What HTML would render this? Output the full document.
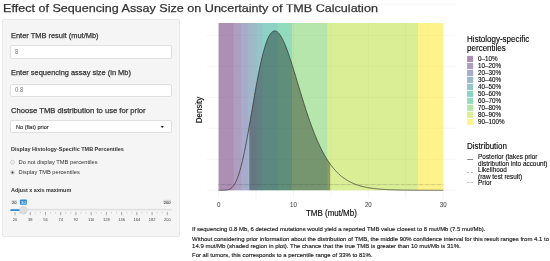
<!DOCTYPE html>
<html><head><meta charset="utf-8">
<style>
html,body{margin:0;padding:0;background:#fff;}
body{width:550px;height:261px;position:relative;overflow:hidden;font-family:"Liberation Sans",Arial,Helvetica,sans-serif;color:#333;}
.t{position:absolute;white-space:nowrap;line-height:1;transform-origin:0 0;}
.lb{-webkit-text-stroke:0.25px #333;}
.bt{color:#222;-webkit-text-stroke:0.15px #222;}
.well{position:absolute;left:2.0px;top:19.2px;width:178.2px;height:217.8px;background:#f5f5f5;border:0.6px solid #e9e9e9;border-radius:2px;box-sizing:border-box;}
.inp{position:absolute;left:10.4px;width:161.6px;background:#fff;border:0.6px solid #e0e0e0;border-radius:2px;box-sizing:border-box;}
svg{position:absolute;left:0;top:0;}
svg text{font-family:"Liberation Sans",Arial,Helvetica,sans-serif;}
</style></head>
<body>
<div class="t" style="left:2.5px;top:2.6px;font-size:11.4px;color:#333;transform:scaleX(1.104);-webkit-text-stroke:0.25px #333">Effect of Sequencing Assay Size on Uncertainty of TMB Calculation</div>
<div class="well"></div>
<div class="t lb" style="left:10.9px;top:31.75px;font-size:7.9px;transform:scaleX(0.943)">Enter TMB result (mut/Mb)</div>
<div class="inp" style="top:45.3px;height:13.6px;"></div>
<div class="t" style="left:15.3px;top:49.2px;font-size:6.8px;color:#777;transform:scaleX(0.88)">8</div>
<div class="t lb" style="left:10.9px;top:69.15px;font-size:7.9px;transform:scaleX(0.943)">Enter sequencing assay size (in Mb)</div>
<div class="inp" style="top:83.6px;height:13.0px;"></div>
<div class="t" style="left:15.3px;top:87.1px;font-size:6.8px;color:#777;transform:scaleX(0.88)">0.8</div>
<div class="t lb" style="left:10.9px;top:107.35px;font-size:8.1px;transform:scaleX(0.942)">Choose TMB distribution to use for prior</div>
<div class="inp" style="top:120.4px;height:13.0px;"></div>
<div class="t" style="left:15.6px;top:124.8px;font-size:5.9px;color:#333;transform:scaleX(0.95);-webkit-text-stroke:0.15px #333">No (flat) prior</div>
<div class="t" style="left:10.8px;top:147.3px;font-size:5.9px;font-weight:bold;transform:scaleX(0.929)">Display Histology-Specific TMB Percentiles</div>
<div class="t" style="left:18.6px;top:160.1px;font-size:5.72px;">Do not display TMB percentiles</div>
<div class="t" style="left:18.6px;top:170.4px;font-size:5.7px;">Display TMB percentiles</div>
<div class="t" style="left:10.8px;top:188.4px;font-size:5.85px;font-weight:bold;transform:scaleX(0.927)">Adjust x axis maximum</div>
<svg width="550" height="261" viewBox="0 0 550 261">
<!-- select arrow -->
<path d="M160.5 126.0 L163.9 126.0 L162.2 128.0 Z" fill="#222"/>
<!-- radios -->
<circle cx="12.5" cy="162.2" r="2.0" fill="#ececec" stroke="#bdbdbd" stroke-width="0.55"/>
<circle cx="12.5" cy="172.4" r="2.0" fill="#e4e4e4" stroke="#c4c4c4" stroke-width="0.55"/>
<circle cx="12.5" cy="172.4" r="1.0" fill="#333"/>
<!-- slider -->
<rect x="10.4" y="209.0" width="161.3" height="1.2" rx="0.6" fill="#e6e6e6" stroke="#d4d4d4" stroke-width="0.3"/>
<rect x="10.3" y="209.2" width="13" height="1.9" rx="0.9" fill="#2f8ad4"/>
<rect x="11.4" y="199.9" width="5.9" height="4.3" rx="0.8" fill="#dcdcdc"/>
<text x="14.35" y="203.5" font-size="4.0" fill="#333" text-anchor="middle">20</text>
<rect x="163" y="199.8" width="8.1" height="4.3" rx="0.8" fill="#dcdcdc"/>
<text x="167.05" y="203.5" font-size="4.0" fill="#333" text-anchor="middle">200</text>
<rect x="19.9" y="199.4" width="6.9" height="5.3" rx="0.8" fill="#2f8ad4"/>
<text x="23.45" y="203.5" font-size="4.2" fill="#fff" text-anchor="middle">30</text>
<circle cx="23.4" cy="210.3" r="3.8" fill="#dedede" stroke="#c9c9c9" stroke-width="0.4"/>
<line x1="15.00" y1="212" x2="15.00" y2="215.3" stroke="#777" stroke-width="0.6"/>
<text x="15.00" y="220.9" font-size="4.0" fill="#444" text-anchor="middle">20</text>
<line x1="20.08" y1="212" x2="20.08" y2="213.5" stroke="#aaa" stroke-width="0.5"/>
<line x1="25.15" y1="212" x2="25.15" y2="213.5" stroke="#aaa" stroke-width="0.5"/>
<line x1="30.23" y1="212" x2="30.23" y2="215.3" stroke="#777" stroke-width="0.6"/>
<text x="30.23" y="220.9" font-size="4.0" fill="#444" text-anchor="middle">38</text>
<line x1="35.31" y1="212" x2="35.31" y2="213.5" stroke="#aaa" stroke-width="0.5"/>
<line x1="40.38" y1="212" x2="40.38" y2="213.5" stroke="#aaa" stroke-width="0.5"/>
<line x1="45.46" y1="212" x2="45.46" y2="215.3" stroke="#777" stroke-width="0.6"/>
<text x="45.46" y="220.9" font-size="4.0" fill="#444" text-anchor="middle">56</text>
<line x1="50.54" y1="212" x2="50.54" y2="213.5" stroke="#aaa" stroke-width="0.5"/>
<line x1="55.61" y1="212" x2="55.61" y2="213.5" stroke="#aaa" stroke-width="0.5"/>
<line x1="60.69" y1="212" x2="60.69" y2="215.3" stroke="#777" stroke-width="0.6"/>
<text x="60.69" y="220.9" font-size="4.0" fill="#444" text-anchor="middle">74</text>
<line x1="65.77" y1="212" x2="65.77" y2="213.5" stroke="#aaa" stroke-width="0.5"/>
<line x1="70.84" y1="212" x2="70.84" y2="213.5" stroke="#aaa" stroke-width="0.5"/>
<line x1="75.92" y1="212" x2="75.92" y2="215.3" stroke="#777" stroke-width="0.6"/>
<text x="75.92" y="220.9" font-size="4.0" fill="#444" text-anchor="middle">92</text>
<line x1="81.00" y1="212" x2="81.00" y2="213.5" stroke="#aaa" stroke-width="0.5"/>
<line x1="86.07" y1="212" x2="86.07" y2="213.5" stroke="#aaa" stroke-width="0.5"/>
<line x1="91.15" y1="212" x2="91.15" y2="215.3" stroke="#777" stroke-width="0.6"/>
<text x="91.15" y="220.9" font-size="4.0" fill="#444" text-anchor="middle">110</text>
<line x1="96.23" y1="212" x2="96.23" y2="213.5" stroke="#aaa" stroke-width="0.5"/>
<line x1="101.30" y1="212" x2="101.30" y2="213.5" stroke="#aaa" stroke-width="0.5"/>
<line x1="106.38" y1="212" x2="106.38" y2="215.3" stroke="#777" stroke-width="0.6"/>
<text x="106.38" y="220.9" font-size="4.0" fill="#444" text-anchor="middle">128</text>
<line x1="111.46" y1="212" x2="111.46" y2="213.5" stroke="#aaa" stroke-width="0.5"/>
<line x1="116.53" y1="212" x2="116.53" y2="213.5" stroke="#aaa" stroke-width="0.5"/>
<line x1="121.61" y1="212" x2="121.61" y2="215.3" stroke="#777" stroke-width="0.6"/>
<text x="121.61" y="220.9" font-size="4.0" fill="#444" text-anchor="middle">146</text>
<line x1="126.69" y1="212" x2="126.69" y2="213.5" stroke="#aaa" stroke-width="0.5"/>
<line x1="131.76" y1="212" x2="131.76" y2="213.5" stroke="#aaa" stroke-width="0.5"/>
<line x1="136.84" y1="212" x2="136.84" y2="215.3" stroke="#777" stroke-width="0.6"/>
<text x="136.84" y="220.9" font-size="4.0" fill="#444" text-anchor="middle">164</text>
<line x1="141.92" y1="212" x2="141.92" y2="213.5" stroke="#aaa" stroke-width="0.5"/>
<line x1="146.99" y1="212" x2="146.99" y2="213.5" stroke="#aaa" stroke-width="0.5"/>
<line x1="152.07" y1="212" x2="152.07" y2="215.3" stroke="#777" stroke-width="0.6"/>
<text x="152.07" y="220.9" font-size="4.0" fill="#444" text-anchor="middle">182</text>
<line x1="157.15" y1="212" x2="157.15" y2="213.5" stroke="#aaa" stroke-width="0.5"/>
<line x1="162.22" y1="212" x2="162.22" y2="213.5" stroke="#aaa" stroke-width="0.5"/>
<line x1="167.30" y1="212" x2="167.30" y2="215.3" stroke="#777" stroke-width="0.6"/>
<text x="167.30" y="220.9" font-size="4.0" fill="#444" text-anchor="middle">200</text>
<line x1="207.0" y1="190.30" x2="456.0" y2="190.30" stroke="#ebebeb" stroke-width="0.5"/>
<line x1="207.0" y1="159.30" x2="456.0" y2="159.30" stroke="#ebebeb" stroke-width="0.5"/>
<line x1="207.0" y1="128.30" x2="456.0" y2="128.30" stroke="#ebebeb" stroke-width="0.5"/>
<line x1="207.0" y1="97.30" x2="456.0" y2="97.30" stroke="#ebebeb" stroke-width="0.5"/>
<line x1="207.0" y1="66.30" x2="456.0" y2="66.30" stroke="#ebebeb" stroke-width="0.5"/>
<line x1="207.0" y1="35.30" x2="456.0" y2="35.30" stroke="#ebebeb" stroke-width="0.5"/>
<line x1="207.0" y1="4.30" x2="456.0" y2="4.30" stroke="#ebebeb" stroke-width="0.5"/>
<line x1="218.60" y1="23.0" x2="218.60" y2="198.5" stroke="#ebebeb" stroke-width="0.5"/>
<line x1="256.03" y1="23.0" x2="256.03" y2="198.5" stroke="#ebebeb" stroke-width="0.5"/>
<line x1="293.47" y1="23.0" x2="293.47" y2="198.5" stroke="#ebebeb" stroke-width="0.5"/>
<line x1="330.90" y1="23.0" x2="330.90" y2="198.5" stroke="#ebebeb" stroke-width="0.5"/>
<line x1="368.34" y1="23.0" x2="368.34" y2="198.5" stroke="#ebebeb" stroke-width="0.5"/>
<line x1="405.77" y1="23.0" x2="405.77" y2="198.5" stroke="#ebebeb" stroke-width="0.5"/>
<line x1="443.21" y1="23.0" x2="443.21" y2="198.5" stroke="#ebebeb" stroke-width="0.5"/>
<rect x="218.6" y="23.0" width="15.80" height="167.30" fill="#ad8fb4"/>
<rect x="233.4" y="23.0" width="8.80" height="167.30" fill="#ad9ec2"/>
<rect x="241.2" y="23.0" width="8.10" height="167.30" fill="#a6acc9"/>
<rect x="248.3" y="23.0" width="8.20" height="167.30" fill="#9eb8ca"/>
<rect x="255.5" y="23.0" width="8.00" height="167.30" fill="#97c3c9"/>
<rect x="262.5" y="23.0" width="16.10" height="167.30" fill="#8cd3c5"/>
<rect x="277.6" y="23.0" width="15.40" height="167.30" fill="#92dcbd"/>
<rect x="292.0" y="23.0" width="36.30" height="167.30" fill="#b6e6ac"/>
<rect x="327.3" y="23.0" width="91.70" height="167.30" fill="#daee96"/>
<rect x="418.0" y="23.0" width="25.20" height="167.30" fill="#fef28b"/>
<line x1="218.6" y1="159.30" x2="443.2" y2="159.30" stroke="#000" stroke-opacity="0.05" stroke-width="0.5"/>
<line x1="218.6" y1="128.30" x2="443.2" y2="128.30" stroke="#000" stroke-opacity="0.05" stroke-width="0.5"/>
<line x1="218.6" y1="97.30" x2="443.2" y2="97.30" stroke="#000" stroke-opacity="0.05" stroke-width="0.5"/>
<line x1="218.6" y1="66.30" x2="443.2" y2="66.30" stroke="#000" stroke-opacity="0.05" stroke-width="0.5"/>
<line x1="218.6" y1="35.30" x2="443.2" y2="35.30" stroke="#000" stroke-opacity="0.05" stroke-width="0.5"/>
<line x1="256.03" y1="23.0" x2="256.03" y2="190.3" stroke="#000" stroke-opacity="0.05" stroke-width="0.5"/>
<line x1="293.47" y1="23.0" x2="293.47" y2="190.3" stroke="#000" stroke-opacity="0.05" stroke-width="0.5"/>
<line x1="330.90" y1="23.0" x2="330.90" y2="190.3" stroke="#000" stroke-opacity="0.05" stroke-width="0.5"/>
<line x1="368.34" y1="23.0" x2="368.34" y2="190.3" stroke="#000" stroke-opacity="0.05" stroke-width="0.5"/>
<line x1="405.77" y1="23.0" x2="405.77" y2="190.3" stroke="#000" stroke-opacity="0.05" stroke-width="0.5"/>
<polygon points="249.30,190.30 249.30,125.74 249.70,123.42 250.11,121.09 250.51,118.75 250.91,116.39 251.32,114.04 251.72,111.68 252.13,109.31 252.53,106.95 252.94,104.60 253.34,102.25 253.74,99.91 254.15,97.58 254.55,95.27 254.96,92.97 255.36,90.69 255.77,88.43 256.17,86.20 256.57,83.98 256.98,81.80 257.38,79.64 257.79,77.52 258.19,75.42 258.60,73.37 259.00,71.34 259.40,69.36 259.81,67.41 260.21,65.51 260.62,63.65 261.02,61.83 261.43,60.05 261.83,58.33 262.23,56.65 262.64,55.01 263.04,53.43 263.45,51.90 263.85,50.42 264.26,48.99 264.66,47.61 265.06,46.29 265.47,45.02 265.87,43.80 266.28,42.64 266.68,41.53 267.09,40.48 267.49,39.49 267.89,38.55 268.30,37.66 268.70,36.83 269.11,36.06 269.51,35.34 269.92,34.68 270.32,34.08 270.72,33.53 271.13,33.03 271.53,32.59 271.94,32.20 272.34,31.87 272.75,31.59 273.15,31.36 273.55,31.18 273.96,31.06 274.36,30.98 274.77,30.96 275.17,30.99 275.58,31.06 275.98,31.19 276.38,31.36 276.79,31.57 277.19,31.84 277.60,32.14 278.00,32.50 278.41,32.89 278.81,33.33 279.21,33.80 279.62,34.32 280.02,34.88 280.43,35.47 280.83,36.11 281.24,36.77 281.64,37.48 282.04,38.22 282.45,38.99 282.85,39.79 283.26,40.63 283.66,41.49 284.07,42.39 284.47,43.31 284.87,44.26 285.28,45.24 285.68,46.24 286.09,47.27 286.49,48.32 286.90,49.39 287.30,50.48 287.71,51.59 288.11,52.73 288.51,53.88 288.92,55.05 289.32,56.23 289.73,57.43 290.13,58.65 290.54,59.88 290.94,61.12 291.34,62.37 291.75,63.64 292.15,64.92 292.56,66.20 292.96,67.50 293.37,68.80 293.77,70.11 294.17,71.43 294.58,72.75 294.98,74.08 295.39,75.41 295.79,76.74 296.20,78.08 296.60,79.42 297.00,80.77 297.41,82.11 297.81,83.45 298.22,84.80 298.62,86.14 299.03,87.48 299.43,88.82 299.83,90.16 300.24,91.49 300.64,92.82 301.05,94.15 301.45,95.47 301.86,96.79 302.26,98.10 302.66,99.41 303.07,100.71 303.47,102.00 303.88,103.29 304.28,104.57 304.69,105.84 305.09,107.11 305.49,108.36 305.90,109.61 306.30,110.85 306.71,112.08 307.11,113.30 307.52,114.51 307.92,115.71 308.32,116.91 308.73,118.09 309.13,119.26 309.54,120.42 309.94,121.57 310.35,122.71 310.75,123.83 311.15,124.95 311.56,126.05 311.96,127.15 312.37,128.23 312.77,129.30 313.18,130.36 313.58,131.40 313.98,132.44 314.39,133.46 314.79,134.47 315.20,135.47 315.60,136.45 316.01,137.43 316.41,138.39 316.81,139.34 317.22,140.27 317.62,141.20 318.03,142.11 318.43,143.01 318.84,143.90 319.24,144.77 319.64,145.64 320.05,146.49 320.45,147.33 320.86,148.15 321.26,148.97 321.67,149.77 322.07,150.56 322.47,151.34 322.88,152.11 323.28,152.86 323.69,153.61 324.09,154.34 324.50,155.06 324.90,155.77 325.30,156.47 325.71,157.16 326.11,157.83 326.52,158.50 326.92,159.15 327.33,159.79 327.73,160.42 328.13,161.04 328.54,161.66 328.94,162.26 329.35,162.85 329.75,163.43 330.16,163.99 330.16,190.30" fill="#000" fill-opacity="0.35"/>
<line x1="218.60" y1="184.6" x2="443.21" y2="184.6" stroke="#333" stroke-width="0.45" stroke-dasharray="0.45 0.75"/>
<polyline points="218.60,190.30 218.97,190.30 219.35,190.30 219.72,190.30 220.10,190.30 220.47,190.30 220.85,190.30 221.22,190.30 221.59,190.30 221.97,190.30 222.34,190.30 222.72,190.29 223.09,190.29 223.47,190.28 223.84,190.28 224.22,190.26 224.59,190.25 224.96,190.23 225.34,190.21 225.71,190.18 226.09,190.14 226.46,190.09 226.84,190.03 227.21,189.97 227.58,189.89 227.96,189.79 228.33,189.68 228.71,189.56 229.08,189.41 229.46,189.25 229.83,189.06 230.20,188.85 230.58,188.62 230.95,188.35 231.33,188.06 231.70,187.74 232.08,187.39 232.45,187.00 232.83,186.58 233.20,186.13 233.57,185.63 233.95,185.10 234.32,184.53 234.70,183.91 235.07,183.25 235.45,182.55 235.82,181.81 236.19,181.02 236.57,180.18 236.94,179.30 237.32,178.37 237.69,177.39 238.07,176.36 238.44,175.29 238.81,174.16 239.19,172.99 239.56,171.77 239.94,170.50 240.31,169.19 240.69,167.82 241.06,166.41 241.44,164.96 241.81,163.46 242.18,161.91 242.56,160.32 242.93,158.69 243.31,157.01 243.68,155.30 244.06,153.55 244.43,151.75 244.80,149.93 245.18,148.06 245.55,146.17 245.93,144.24 246.30,142.28 246.68,140.29 247.05,138.28 247.42,136.24 247.80,134.18 248.17,132.10 248.55,130.00 248.92,127.88 249.30,125.74 249.67,123.60 250.05,121.44 250.42,119.27 250.79,117.09 251.17,114.91 251.54,112.73 251.92,110.54 252.29,108.35 252.67,106.17 253.04,103.99 253.41,101.82 253.79,99.65 254.16,97.50 254.54,95.35 254.91,93.23 255.29,91.11 255.66,89.02 256.03,86.94 256.41,84.88 256.78,82.85 257.16,80.84 257.53,78.85 257.91,76.89 258.28,74.96 258.66,73.06 259.03,71.20 259.40,69.36 259.78,67.56 260.15,65.79 260.53,64.06 260.90,62.36 261.28,60.71 261.65,59.09 262.02,57.51 262.40,55.98 262.77,54.48 263.15,53.03 263.52,51.62 263.90,50.26 264.27,48.94 264.65,47.66 265.02,46.43 265.39,45.25 265.77,44.11 266.14,43.02 266.52,41.98 266.89,40.98 267.27,40.03 267.64,39.13 268.01,38.28 268.39,37.47 268.76,36.71 269.14,36.01 269.51,35.34 269.89,34.73 270.26,34.16 270.63,33.64 271.01,33.17 271.38,32.74 271.76,32.37 272.13,32.03 272.51,31.75 272.88,31.50 273.26,31.31 273.63,31.16 274.00,31.05 274.38,30.98 274.75,30.96 275.13,30.98 275.50,31.05 275.88,31.15 276.25,31.30 276.62,31.48 277.00,31.71 277.37,31.97 277.75,32.27 278.12,32.61 278.50,32.98 278.87,33.39 279.24,33.84 279.62,34.32 279.99,34.84 280.37,35.38 280.74,35.96 281.12,36.57 281.49,37.21 281.87,37.88 282.24,38.58 282.61,39.31 282.99,40.07 283.36,40.85 283.74,41.66 284.11,42.49 284.49,43.35 284.86,44.23 285.23,45.13 285.61,46.05 285.98,47.00 286.36,47.96 286.73,48.95 287.11,49.95 287.48,50.97 287.85,52.01 288.23,53.06 288.60,54.13 288.98,55.22 289.35,56.32 289.73,57.43 290.10,58.56 290.48,59.69 290.85,60.84 291.22,62.00 291.60,63.17 291.97,64.35 292.35,65.53 292.72,66.73 293.10,67.93 293.47,69.14 293.84,70.35 294.22,71.57 294.59,72.80 294.97,74.03 295.34,75.26 295.72,76.50 296.09,77.74 296.46,78.98 296.84,80.22 297.21,81.46 297.59,82.71 297.96,83.95 298.34,85.19 298.71,86.44 299.09,87.68 299.46,88.92 299.83,90.16 300.21,91.39 300.58,92.62 300.96,93.85 301.33,95.08 301.71,96.30 302.08,97.52 302.45,98.73 302.83,99.94 303.20,101.14 303.58,102.34 303.95,103.53 304.33,104.71 304.70,105.89 305.07,107.06 305.45,108.22 305.82,109.38 306.20,110.53 306.57,111.67 306.95,112.81 307.32,113.93 307.70,115.05 308.07,116.16 308.44,117.26 308.82,118.35 309.19,119.43 309.57,120.50 309.94,121.57 310.32,122.62 310.69,123.67 311.06,124.70 311.44,125.73 311.81,126.74 312.19,127.75 312.56,128.74 312.94,129.73 313.31,130.71 313.68,131.67 314.06,132.63 314.43,133.57 314.81,134.51 315.18,135.43 315.56,136.34 315.93,137.25 316.31,138.14 316.68,139.02 317.05,139.89 317.43,140.75 317.80,141.60 318.18,142.44 318.55,143.27 318.93,144.09 319.30,144.90 319.67,145.70 320.05,146.49 320.42,147.26 320.80,148.03 321.17,148.79 321.55,149.53 321.92,150.27 322.29,151.00 322.67,151.71 323.04,152.42 323.42,153.11 323.79,153.80 324.17,154.47 324.54,155.14 324.92,155.80 325.29,156.44 325.66,157.08 326.04,157.71 326.41,158.32 326.79,158.93 327.16,159.53 327.54,160.12 327.91,160.70 328.28,161.27 328.66,161.83 329.03,162.39 329.41,162.93 329.78,163.47 330.16,163.99 330.53,164.51 330.90,165.02 331.28,165.52 331.65,166.02 332.03,166.50 332.40,166.98 332.78,167.45 333.15,167.91 333.53,168.36 333.90,168.81 334.27,169.24 334.65,169.67 335.02,170.09 335.40,170.51 335.77,170.92 336.15,171.32 336.52,171.71 336.89,172.10 337.27,172.47 337.64,172.85 338.02,173.21 338.39,173.57 338.77,173.92 339.14,174.27 339.52,174.61 339.89,174.94 340.26,175.27 340.64,175.59 341.01,175.90 341.39,176.21 341.76,176.52 342.14,176.81 342.51,177.10 342.88,177.39 343.26,177.67 343.63,177.94 344.01,178.21 344.38,178.48 344.76,178.74 345.13,178.99 345.50,179.24 345.88,179.49 346.25,179.72 346.63,179.96 347.00,180.19 347.38,180.41 347.75,180.64 348.13,180.85 348.50,181.06 348.87,181.27 349.25,181.47 349.62,181.67 350.00,181.87 350.37,182.06 350.75,182.25 351.12,182.43 351.49,182.61 351.87,182.79 352.24,182.96 352.62,183.13 352.99,183.29 353.37,183.45 353.74,183.61 354.11,183.77 354.49,183.92 354.86,184.07 355.24,184.21 355.61,184.35 355.99,184.49 356.36,184.63 356.74,184.76 357.11,184.89 357.48,185.02 357.86,185.14 358.23,185.26 358.61,185.38 358.98,185.50 359.36,185.61 359.73,185.72 360.10,185.83 360.48,185.94 360.85,186.04 361.23,186.15 361.60,186.25 361.98,186.34 362.35,186.44 362.72,186.53 363.10,186.62 363.47,186.71 363.85,186.80 364.22,186.88 364.60,186.97 364.97,187.05 365.35,187.13 365.72,187.20 366.09,187.28 366.47,187.35 366.84,187.43 367.22,187.50 367.59,187.57 367.97,187.63 368.34,187.70 368.71,187.76 369.09,187.83 369.46,187.89 369.84,187.95 370.21,188.01 370.59,188.06 370.96,188.12 371.33,188.17 371.71,188.23 372.08,188.28 372.46,188.33 372.83,188.38 373.21,188.43 373.58,188.47 373.96,188.52 374.33,188.56 374.70,188.61 375.08,188.65 375.45,188.69 375.83,188.73 376.20,188.77 376.58,188.81 376.95,188.85 377.32,188.89 377.70,188.92 378.07,188.96 378.45,188.99 378.82,189.03 379.20,189.06 379.57,189.09 379.94,189.12 380.32,189.15 380.69,189.18 381.07,189.21 381.44,189.24 381.82,189.27 382.19,189.29 382.57,189.32 382.94,189.34 383.31,189.37 383.69,189.39 384.06,189.42 384.44,189.44 384.81,189.46 385.19,189.48 385.56,189.51 385.93,189.53 386.31,189.55 386.68,189.57 387.06,189.59 387.43,189.61 387.81,189.62 388.18,189.64 388.55,189.66 388.93,189.68 389.30,189.69 389.68,189.71 390.05,189.72 390.43,189.74 390.80,189.75 391.18,189.77 391.55,189.78 391.92,189.80 392.30,189.81 392.67,189.82 393.05,189.84 393.42,189.85 393.80,189.86 394.17,189.87 394.54,189.88 394.92,189.89 395.29,189.91 395.67,189.92 396.04,189.93 396.42,189.94 396.79,189.95 397.16,189.96 397.54,189.97 397.91,189.97 398.29,189.98 398.66,189.99 399.04,190.00 399.41,190.01 399.79,190.02 400.16,190.02 400.53,190.03 400.91,190.04 401.28,190.05 401.66,190.05 402.03,190.06 402.41,190.07 402.78,190.07 403.15,190.08 403.53,190.09 403.90,190.09 404.28,190.10 404.65,190.10 405.03,190.11 405.40,190.11 405.77,190.12 406.15,190.12 406.52,190.13 406.90,190.13 407.27,190.14 407.65,190.14 408.02,190.15 408.40,190.15 408.77,190.15 409.14,190.16 409.52,190.16 409.89,190.17 410.27,190.17 410.64,190.17 411.02,190.18 411.39,190.18 411.76,190.18 412.14,190.19 412.51,190.19 412.89,190.19 413.26,190.20 413.64,190.20 414.01,190.20 414.39,190.21 414.76,190.21 415.13,190.21 415.51,190.21 415.88,190.22 416.26,190.22 416.63,190.22 417.01,190.22 417.38,190.22 417.75,190.23 418.13,190.23 418.50,190.23 418.88,190.23 419.25,190.23 419.63,190.24 420.00,190.24 420.37,190.24 420.75,190.24 421.12,190.24 421.50,190.25 421.87,190.25 422.25,190.25 422.62,190.25 423.00,190.25 423.37,190.25 423.74,190.25 424.12,190.26 424.49,190.26 424.87,190.26 425.24,190.26 425.62,190.26 425.99,190.26 426.36,190.26 426.74,190.26 427.11,190.26 427.49,190.27 427.86,190.27 428.24,190.27 428.61,190.27 428.98,190.27 429.36,190.27 429.73,190.27 430.11,190.27 430.48,190.27 430.86,190.27 431.23,190.27 431.61,190.28 431.98,190.28 432.35,190.28 432.73,190.28 433.10,190.28 433.48,190.28 433.85,190.28 434.23,190.28 434.60,190.28 434.97,190.28 435.35,190.28 435.72,190.28 436.10,190.28 436.47,190.28 436.85,190.28 437.22,190.28 437.59,190.28 437.97,190.28 438.34,190.29 438.72,190.29 439.09,190.29 439.47,190.29 439.84,190.29 440.22,190.29 440.59,190.29 440.96,190.29 441.34,190.29 441.71,190.29 442.09,190.29 442.46,190.29 442.84,190.29 443.21,190.29" fill="none" stroke="#2b2b2b" stroke-width="0.7"/>
<text transform="translate(218.6 206.8) scale(0.8696 1)" font-size="7.015" fill="#4d4d4d" text-anchor="middle" stroke="#4d4d4d" stroke-width="0.08">0</text>
<text transform="translate(293.47 206.8) scale(0.8696 1)" font-size="7.015" fill="#4d4d4d" text-anchor="middle" stroke="#4d4d4d" stroke-width="0.08">10</text>
<text transform="translate(368.34 206.8) scale(0.8696 1)" font-size="7.015" fill="#4d4d4d" text-anchor="middle" stroke="#4d4d4d" stroke-width="0.08">20</text>
<text transform="translate(443.21 206.8) scale(0.8696 1)" font-size="7.015" fill="#4d4d4d" text-anchor="middle" stroke="#4d4d4d" stroke-width="0.08">30</text>
<text transform="translate(331.4 216) scale(0.9259 1)" font-size="8.608" fill="#000" text-anchor="middle" stroke="#000" stroke-width="0.12">TMB (mut/Mb)</text>
<text transform="translate(202 110) rotate(-90) scale(0.9259 1)" font-size="8.608" fill="#000" text-anchor="middle" stroke="#000" stroke-width="0.12">Density</text>
<text transform="translate(467.1 41.8) scale(0.9259 1)" font-size="8.640" fill="#000" stroke="#000" stroke-width="0.12">Histology-specific</text>
<text transform="translate(467.1 51.3) scale(0.9259 1)" font-size="8.640" fill="#000" stroke="#000" stroke-width="0.12">percentiles</text>
<rect x="467.1" y="55.90" width="6.1" height="6.1" fill="#ad8fb4"/>
<text transform="translate(478.1 61.2) scale(0.9259 1)" font-size="6.804" fill="#000" stroke="#000" stroke-width="0.1">0–10%</text>
<rect x="467.1" y="62.88" width="6.1" height="6.1" fill="#ad9ec2"/>
<text transform="translate(478.1 68.18) scale(0.9259 1)" font-size="6.804" fill="#000" stroke="#000" stroke-width="0.1">10–20%</text>
<rect x="467.1" y="69.86" width="6.1" height="6.1" fill="#a6acc9"/>
<text transform="translate(478.1 75.16) scale(0.9259 1)" font-size="6.804" fill="#000" stroke="#000" stroke-width="0.1">20–30%</text>
<rect x="467.1" y="76.84" width="6.1" height="6.1" fill="#9eb8ca"/>
<text transform="translate(478.1 82.14) scale(0.9259 1)" font-size="6.804" fill="#000" stroke="#000" stroke-width="0.1">30–40%</text>
<rect x="467.1" y="83.82" width="6.1" height="6.1" fill="#97c3c9"/>
<text transform="translate(478.1 89.12) scale(0.9259 1)" font-size="6.804" fill="#000" stroke="#000" stroke-width="0.1">40–50%</text>
<rect x="467.1" y="90.80" width="6.1" height="6.1" fill="#8cd3c5"/>
<text transform="translate(478.1 96.1) scale(0.9259 1)" font-size="6.804" fill="#000" stroke="#000" stroke-width="0.1">50–60%</text>
<rect x="467.1" y="97.78" width="6.1" height="6.1" fill="#92dcbd"/>
<text transform="translate(478.1 103.08) scale(0.9259 1)" font-size="6.804" fill="#000" stroke="#000" stroke-width="0.1">60–70%</text>
<rect x="467.1" y="104.76" width="6.1" height="6.1" fill="#b6e6ac"/>
<text transform="translate(478.1 110.06) scale(0.9259 1)" font-size="6.804" fill="#000" stroke="#000" stroke-width="0.1">70–80%</text>
<rect x="467.1" y="111.74" width="6.1" height="6.1" fill="#daee96"/>
<text transform="translate(478.1 117.04) scale(0.9259 1)" font-size="6.804" fill="#000" stroke="#000" stroke-width="0.1">80–90%</text>
<rect x="467.1" y="118.72" width="6.1" height="6.1" fill="#fef28b"/>
<text transform="translate(478.1 124.02) scale(0.9259 1)" font-size="6.804" fill="#000" stroke="#000" stroke-width="0.1">90–100%</text>
<text transform="translate(467.0 148.8) scale(0.9259 1)" font-size="8.640" fill="#000" stroke="#000" stroke-width="0.12">Distribution</text>
<text transform="translate(478.1 158.6) scale(0.9259 1)" font-size="6.912" fill="#000" stroke="#000" stroke-width="0.1">Posterior (takes prior</text>
<text transform="translate(478.1 166.3) scale(0.9259 1)" font-size="6.912" fill="#000" stroke="#000" stroke-width="0.1">distribution into account)</text>
<text transform="translate(478.1 171.9) scale(0.9259 1)" font-size="6.912" fill="#000" stroke="#000" stroke-width="0.1">Likelihood</text>
<text transform="translate(478.1 178.6) scale(0.9259 1)" font-size="6.912" fill="#000" stroke="#000" stroke-width="0.1">(raw test result)</text>
<text transform="translate(478.1 185.0) scale(0.9259 1)" font-size="6.912" fill="#000" stroke="#000" stroke-width="0.1">Prior</text>
<line x1="467.2" y1="159.5" x2="473.2" y2="159.5" stroke="#333" stroke-width="0.6"/>
<line x1="467.4" y1="172.6" x2="473.2" y2="172.6" stroke="#333" stroke-width="0.6" stroke-dasharray="1.3 2.6"/>
<line x1="467.2" y1="182.4" x2="473.2" y2="182.4" stroke="#333" stroke-width="0.5" stroke-dasharray="0.5 0.8"/>
</svg>
<div class="t bt" style="left:192.1px;top:226.75px;font-size:5.95px;">If sequencing 0.8 Mb, 6 detected mutations would yield a reported TMB value closest to 8 mut/Mb (7.5 mut/Mb).</div>
<div class="t bt" style="left:192.1px;top:236.7px;font-size:5.975px;">Without considering prior information about the distribution of TMB, the middle 90% confidence interval for this result ranges from 4.1 to</div>
<div class="t bt" style="left:192.1px;top:243.0px;font-size:6.01px;">14.9 mut/Mb (shaded region in plot). The chance that the true TMB is greater than 10 mut/Mb is 31%.</div>
<div class="t bt" style="left:192.1px;top:253.2px;font-size:5.93px;">For all tumors, this corresponds to a percentile range of 33% to 81%.</div>
</body></html>
